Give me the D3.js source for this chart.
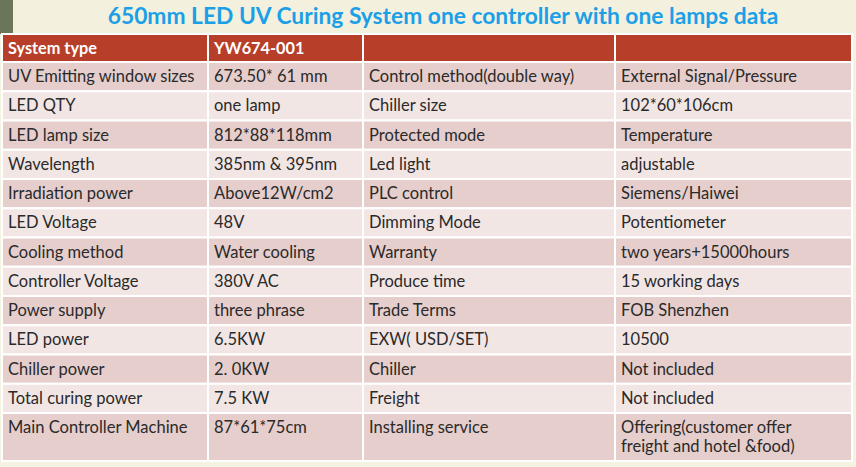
<!DOCTYPE html>
<html><head><meta charset="utf-8">
<script src="https://cdn.jsdelivr.net/npm/d3@7"></script>
<style>body{margin:0;background:#f4f2e0}svg{display:block}</style>
</head><body><svg id="c" width="856" height="467"></svg>
<script>
const title = "650mm LED UV Curing System one controller with one lamps data";
const header = ["System type","YW674-001","",""];
const col1 = ["UV Emitting window sizes","LED QTY","LED lamp size","Wavelength","Irradiation power","LED Voltage","Cooling method","Controller Voltage","Power supply","LED power","Chiller power","Total curing power","Main Controller Machine"];
const col2 = ["673.50* 61 mm","one lamp","812*88*118mm","385nm & 395nm","Above12W/cm2","48V","Water cooling","380V AC","three phrase","6.5KW","2. 0KW","7.5 KW","87*61*75cm"];
const col3 = ["Control method(double way)","Chiller size","Protected mode","Led light","PLC control","Dimming Mode","Warranty","Produce time","Trade Terms","EXW( USD/SET)","Chiller","Freight","Installing service"];
const col4 = ["External Signal/Pressure","102*60*106cm","Temperature","adjustable","Siemens/Haiwei","Potentiometer","two years+15000hours","15 working days","FOB Shenzhen","10500","Not included","Not included","Offering(customer offer\nfreight and hotel &food)"];
const colEdges = [2,208,363,615,852];
const rowEdges = [34,62].concat(d3.range(1,13).map(i=>62+i*29.25)).concat([461]);

const svg = d3.select("#c");
const font = "'Lato', 'Open Sans', sans-serif";
svg.append("rect").attr("x",0).attr("y",0).attr("width",856).attr("height",34).attr("fill","#f3f1de");
svg.append("rect").attr("x",0).attr("y",0).attr("width",13).attr("height",34).attr("fill","#6b7558");
svg.append("text").attr("x",443).attr("y",24).attr("text-anchor","middle")
  .attr("font-family",font).attr("font-weight","bold").attr("font-size",22.8).attr("fill","#1b9fe6").text(title);

const rows = [header].concat(col1.map((d,i)=>[d,col2[i],col3[i],col4[i]]));
const x = d3.scaleOrdinal().domain([0,1,2,3]).range(colEdges.slice(0,4));
rows.forEach((r,ri)=>{
  const y0=rowEdges[ri], y1=rowEdges[ri+1];
  r.forEach((t,ci)=>{
    const g=svg.append("g");
    g.append("rect").attr("x",x(ci)).attr("y",y0).attr("width",colEdges[ci+1]-x(ci)).attr("height",y1-y0)
      .attr("fill", ri===0?"#b73f29":(ri%2===1?"#e6cecc":"#f2e6e5")).attr("stroke","#fff").attr("stroke-width",2);
    const lines=t.split("\n");
    lines.forEach((l,li)=>{
      g.append("text").attr("x",x(ci)+6).attr("y",y0+20+li*19)
        .attr("font-family",font).attr("font-size",ri===0?16.3:16.5).attr("font-weight",ri===0?"bold":"normal")
        .attr("fill",ri===0?"#fff":"#2a2a2a").text(l);
    });
  });
});
</script></body></html>
